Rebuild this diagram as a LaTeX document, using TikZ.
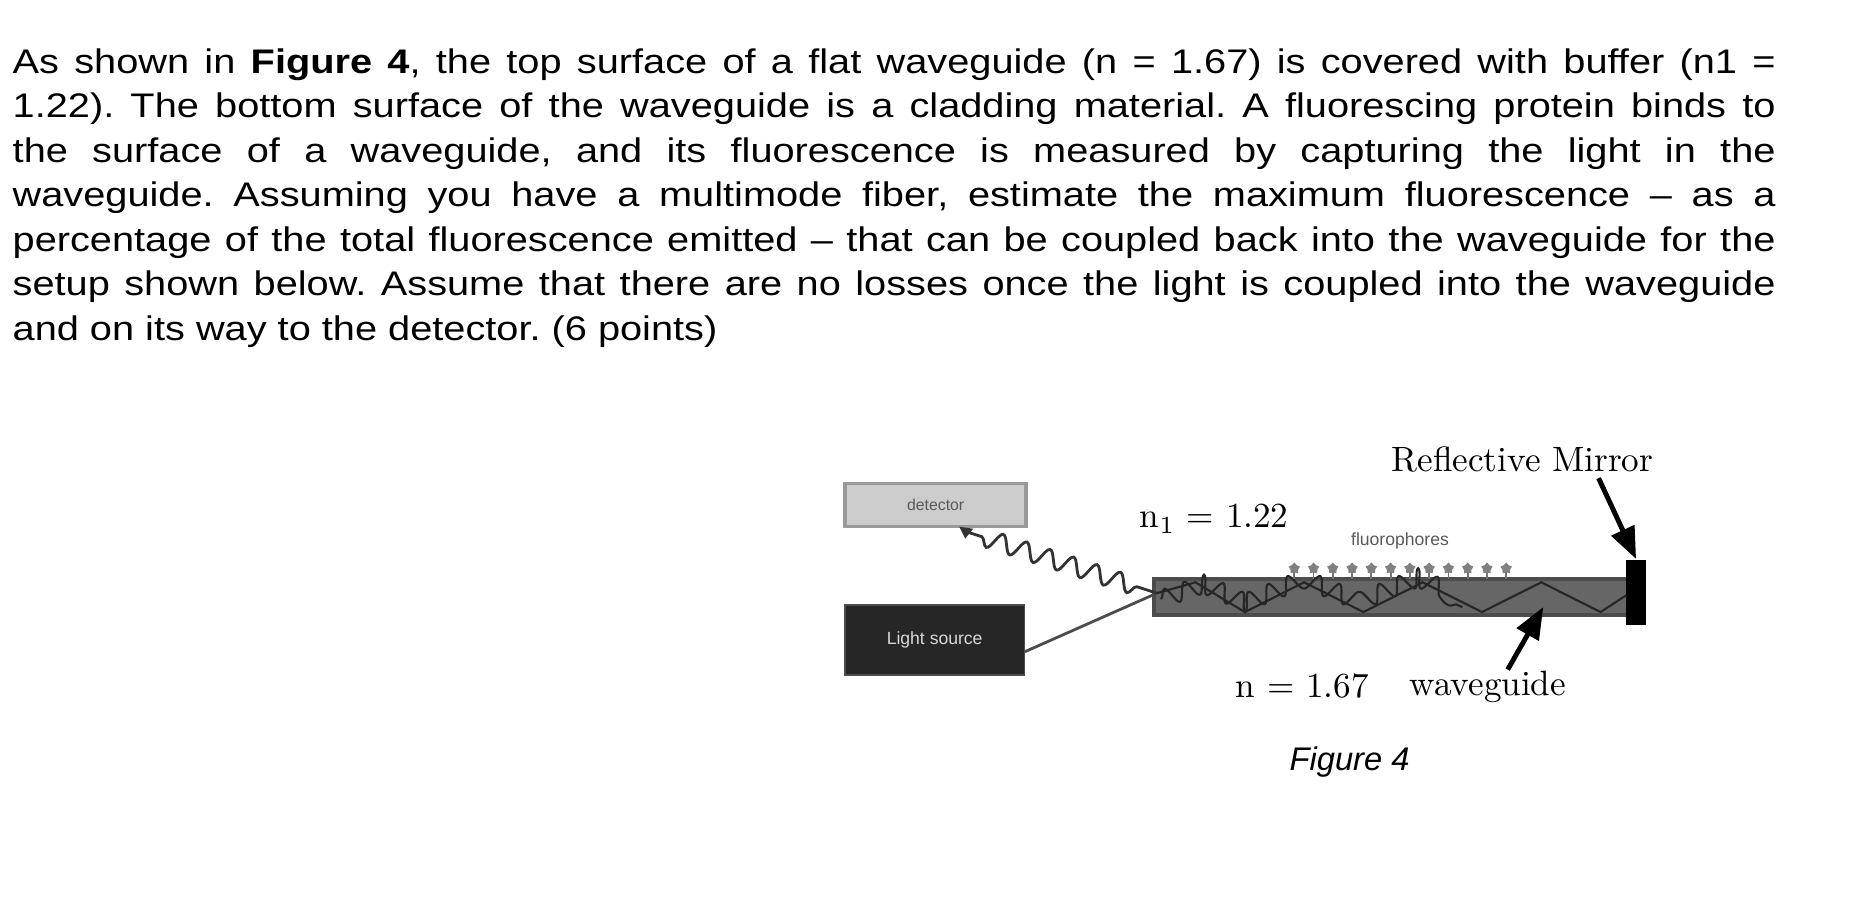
\documentclass[tikz,border=0pt]{standalone}
\usepackage{fontspec}
\setmainfont[FakeStretch=1.165]{Liberation Sans}
\newfontfamily\plainsans{Liberation Sans}
\newfontfamily\serifft{Latin Modern Roman}
\usetikzlibrary{decorations.pathmorphing,arrows.meta,shapes.geometric}
\frenchspacing
\begin{document}
\begin{tikzpicture}[x=0.01cm,y=-0.01cm,
  lbl/.style={font=\serifft\fontsize{10}{12}\selectfont},
  arr/.style={-{Triangle[length=9pt,width=7pt]},line width=1.4pt}]
\useasboundingbox (0,0) rectangle (1856,900);
\node[anchor=north west,inner sep=0,text width=17.62cm,align=justify,font=\fontsize{9.7}{12.65}\selectfont] (txt) at (12,48)
{\frenchspacing As shown in \textbf{Figure 4}, the top surface of a flat waveguide (n = 1.67) is covered with buffer (n1 =\linebreak 1.22). The bottom surface of the waveguide is a cladding material. A fluorescing protein binds to\linebreak the surface of a waveguide, and its fluorescence is measured by capturing the light in the\linebreak waveguide. Assuming you have a multimode fiber, estimate the maximum fluorescence -- as a\linebreak percentage of the total fluorescence emitted -- that can be coupled back into the waveguide for the\linebreak setup shown below. Assume that there are no losses once the light is coupled into the waveguide\linebreak and on its way to the detector. (6 points)\par};
\begin{scope}[xscale=0.988,yscale=0.992]
% boxes
\node[draw=gray!80,fill=gray!40,line width=1pt,minimum width=1.81cm,minimum height=0.43cm,inner sep=0,text=gray!70!black,font=\plainsans\fontsize{4.5}{5}\selectfont] (det) at (947,509) {detector};
\node[draw=black!70,fill=black!85,minimum width=1.79cm,minimum height=0.7cm,inner sep=0,text=gray!30,font=\plainsans\fontsize{5}{6}\selectfont] (src) at (946,645) {Light source};
% waveguide
\node[draw=black!70,fill=black!60,line width=1pt,minimum width=4.76cm,minimum height=0.36cm,inner sep=0] (wg) at (1409,602) {};
\node[fill=black,minimum width=0.2cm,minimum height=0.65cm,inner sep=0] (mir) at (1656,597) {};
\coordinate (in) at (1171,598);
% internal rays
\draw[black!85,line width=0.6pt] (in) -- (1210,587) -- (1260,617) -- (1320,587) -- (1380,617) -- (1440,587) -- (1500,617) -- (1560,587) -- (1620,617) -- (1646,600);
\draw[black!85,line width=0.6pt,decorate,decoration={snake,amplitude=2.5pt,segment length=6pt}] (1175,604) -- (1215,590) -- (1265,612) -- (1320,590) -- (1375,612) -- (1430,590) -- (1480,612);
% connectors
\draw[black!70,line width=0.8pt] (src.east) ++(0,12) coordinate (s1) -- (in);
\draw[black!80,line width=0.8pt,decorate,decoration={snake,amplitude=2.5pt,segment length=7pt,pre length=6pt,post length=2pt}] (in) -- (975,535) coordinate (dtip);
\fill[black!80] (dtip) ++(-4,-4) -- ++(14,2) -- ++(-8,10) -- cycle;
% fluorophores
\foreach \i in {0,...,11} {
  \draw[black!55,line width=0.5pt] (1310+\i*19.5,574) -- (1310+\i*19.5,584);
  \node[star,star points=5,fill=black!50,minimum size=0.12cm,inner sep=0] (f\i) at (1310+\i*19.5,573) {};
}
\node[text=gray!70!black,font=\plainsans\fontsize{5}{6}\selectfont] (fl) at (1417,545) {fluorophores};
% labels
\node[lbl] (n1) at (1229,523) {n\textsubscript{1} = 1.22};
\node[lbl] (rm) at (1541,463) {Reflective Mirror};
\node[lbl] (n) at (1318,692) {n = 1.67};
\node[lbl] (wgl) at (1506,692) {waveguide};
\node[font=\plainsans\itshape\fontsize{9.3}{11}\selectfont] (fig) at (1366,768) {Figure 4};
\draw[arr] (1618,482) -- (mir.north);
\draw[arr] (1526,675) -- (1562,612);
\end{scope}
\end{tikzpicture}
\end{document}
